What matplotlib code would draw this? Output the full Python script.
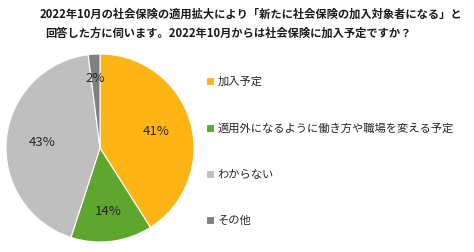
import matplotlib
matplotlib.use("Agg")
import matplotlib.pyplot as plt
import numpy as np

plt.rcParams['font.family'] = ['Noto Sans CJK JP', 'DejaVu Sans']

# データ
categories = ['加入予定', '適用外になるように働き方や職場を変える予定', 'わからない', 'その他']
values = [41, 14, 43, 2]
colors = ['#FDB415', '#5EA62E', '#BFBFBF', '#808080']
title_lines = ['2022年10月の社会保険の適用拡大により「新たに社会保険の加入対象者になる」と',
               '回答した方に伺います。2022年10月からは社会保険に加入予定ですか？']

fig = plt.figure(figsize=(4.74, 2.52), dpi=100)
ax = fig.add_axes([6/474, 10/252, 188/474, 188/252])

wedges, _ = ax.pie(values, colors=colors, startangle=90, counterclock=False,
                   wedgeprops=dict(edgecolor='white', linewidth=0.8))
ax.set_xlim(-1, 1)
ax.set_ylim(-1, 1)
ax.set_aspect('equal')

# ラベル位置 (半径方向の距離)
label_r = [0.62, 0.68, 0.62, 0.74]
for w, v, r in zip(wedges, values, label_r):
    ang = np.deg2rad((w.theta1 + w.theta2) / 2)
    ax.text(r * np.cos(ang), r * np.sin(ang), f'{v}%', ha='center', va='center',
            fontsize=9.5, color='#262626')

fig.text(40/474, 1 - 14/252, title_lines[0], ha='left', va='center',
         fontsize=8.1, fontweight='bold', color='#1a1a1a')
fig.text(45/474, 1 - 33/252, title_lines[1], ha='left', va='center',
         fontsize=8.1, fontweight='bold', color='#1a1a1a')

fig.legend(wedges, categories, loc='upper left', bbox_to_anchor=(206/474, 1 - 77/252),
           frameon=False, fontsize=8.1, labelspacing=3.2, handlelength=0.75,
           handleheight=0.75, handletextpad=0.3, borderpad=0, borderaxespad=0,
           labelcolor='#262626')

fig.savefig('out.png', dpi=100)
